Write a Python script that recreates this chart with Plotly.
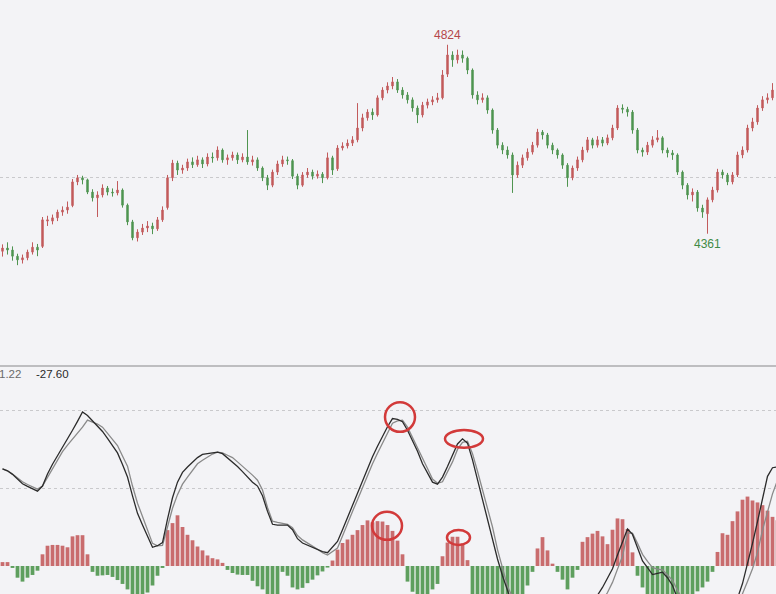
import plotly.graph_objects as go

# ---------------- price bars ----------------
opens = [4318,4326,4321,4306,4297,4302,4316,4328,4330,4392,4392,4400,4414,4419,4430,4488,4498,4493,4463,4449,
         4456,4473,4463,4461,4468,4431,4390,4351,4365,4375,4380,4373,4395,4425,4498,4534,4517,4522,4537,4530,
         4542,4532,4549,4547,4566,4542,4547,4554,4542,4549,4537,4542,4522,4498,4480,4512,4532,4542,4540,4502,
         4480,4505,4512,4502,4507,4498,4547,4520,4571,4576,4583,4591,4620,4645,4659,4652,4694,4713,4723,4733,
         4713,4701,4689,4669,4652,4676,4684,4689,4694,4752,4799,4787,4799,4791,4762,4701,4689,4694,4664,4615,
         4578,4566,4554,4505,4529,4547,4561,4578,4610,4603,4578,4566,4554,4529,4498,4522,4542,4566,4591,4578,
         4591,4583,4596,4620,4669,4666,4659,4615,4566,4561,4578,4591,4596,4566,4559,4554,4512,4480,4456,4463,
         4424,4410,4444,4468,4512,4505,4488,4505,4554,4566,4620,4635,4669,4689,4694,4713]
highs = [4335,4340,4330,4312,4310,4322,4340,4336,4402,4405,4408,4420,4428,4440,4495,4505,4503,4496,4470,4465,
         4482,4478,4472,4490,4472,4435,4395,4372,4385,4392,4388,4402,4428,4505,4542,4540,4530,4545,4548,4552,
         4548,4558,4560,4575,4570,4555,4562,4560,4558,4615,4552,4548,4526,4505,4518,4540,4552,4550,4544,4508,
         4512,4522,4518,4516,4512,4560,4552,4578,4585,4592,4600,4681,4655,4666,4668,4700,4720,4732,4745,4740,
         4720,4708,4695,4675,4684,4692,4698,4706,4762,4824,4808,4812,4810,4795,4766,4710,4705,4700,4668,4620,
         4585,4575,4560,4538,4555,4570,4586,4618,4615,4608,4584,4570,4558,4534,4528,4550,4574,4598,4596,4600,
         4598,4604,4628,4676,4678,4672,4664,4620,4572,4586,4600,4615,4600,4572,4566,4558,4516,4485,4472,4468,
         4432,4450,4476,4520,4518,4510,4512,4562,4575,4628,4645,4676,4698,4705,4730,4718]
lows = [4305,4310,4295,4284,4288,4296,4310,4306,4326,4380,4384,4392,4405,4410,4426,4480,4482,4458,4440,4402,
        4450,4455,4452,4455,4425,4382,4345,4342,4358,4365,4360,4368,4390,4420,4490,4505,4508,4515,4522,4525,
        4522,4526,4535,4540,4535,4530,4540,4532,4536,4530,4528,4515,4490,4468,4475,4505,4525,4530,4495,4470,
        4476,4498,4494,4496,4485,4494,4505,4515,4565,4570,4576,4585,4612,4638,4640,4648,4688,4705,4715,4706,
        4692,4680,4660,4632,4646,4668,4676,4682,4690,4745,4770,4778,4780,4752,4692,4678,4682,4655,4606,4570,
        4556,4545,4461,4498,4522,4540,4555,4572,4592,4570,4556,4545,4520,4476,4492,4515,4536,4560,4570,4572,
        4575,4578,4590,4615,4656,4648,4606,4558,4550,4554,4572,4585,4558,4548,4542,4505,4470,4445,4440,4415,
        4400,4361,4438,4462,4496,4480,4482,4500,4546,4560,4612,4628,4662,4680,4688,4655]
closes = [4326,4321,4306,4297,4302,4316,4328,4321,4395,4395,4400,4414,4419,4426,4488,4498,4493,4463,4449,4456,
          4473,4463,4461,4468,4431,4390,4351,4365,4375,4380,4373,4395,4419,4498,4534,4517,4522,4537,4530,4542,
          4532,4549,4547,4566,4542,4547,4554,4542,4549,4537,4542,4522,4498,4480,4512,4532,4542,4540,4502,4480,
          4505,4512,4502,4507,4498,4547,4517,4571,4576,4583,4591,4620,4645,4659,4652,4694,4713,4723,4733,4713,
          4701,4689,4669,4652,4676,4684,4689,4694,4750,4799,4787,4799,4791,4762,4701,4689,4694,4664,4615,4578,
          4566,4554,4505,4529,4547,4561,4578,4610,4603,4578,4566,4554,4529,4498,4522,4542,4566,4591,4578,4591,
          4583,4596,4620,4669,4666,4659,4615,4566,4561,4578,4591,4596,4566,4559,4554,4512,4480,4456,4463,4424,
          4414,4444,4468,4512,4505,4488,4505,4554,4566,4620,4635,4669,4689,4694,4713,4664]

# ---------------- MACD panel ----------------
macd = [24.9,24.4,23.5,22.2,21.1,20.4,19.8,19.2,20.5,23.6,26.1,28.2,30.3,32.5,34.8,37.1,39.5,38.6,37.3,36.0,
        34.5,32.7,30.9,29.0,26.0,22.8,18.0,13.5,10.5,7.6,4.8,5.2,6.0,12.0,17.5,21.5,24.0,25.4,26.5,27.8,
        28.6,28.8,29.0,29.2,28.8,27.7,26.8,25.5,24.2,22.8,21.5,20.5,18.0,14.0,10.7,10.5,10.5,10.5,9.3,7.0,
        5.9,5.3,4.7,4.2,3.7,3.4,4.8,6.3,9.3,12.5,15.5,18.5,22.0,25.3,28.0,30.7,33.4,35.7,37.8,37.6,
        37.0,34.8,32.1,29.4,26.2,23.8,21.5,21.0,22.8,25.5,28.3,31.3,32.6,31.5,27.2,22.0,17.0,11.5,6.5,1.8,
        -2.5,-6.5,-10.0,-12.3,-14.8,-16.5,-18.2,-19.5,-20.3,-21.1,-21.8,-21.9,-21.2,-20.3,-19.0,-17.0,-15.0,-13.0,-10.0,-7.5,
        -5.5,-3.2,-0.7,2.8,5.9,9.5,8.1,4.8,1.3,-0.4,-2.2,-1.9,-1.6,-3.0,-5.0,-8.3,-11.0,-12.8,-14.2,-15.4,
        -16.3,-16.8,-16.9,-16.3,-14.8,-13.0,-10.8,-8.3,-4.5,0.5,5.8,11.4,17.6,23.0,25.2,25.4]
signal = [24.9,24.4,23.6,22.5,21.6,20.9,20.3,19.7,20.5,22.7,25.0,27.3,29.3,31.0,32.5,34.0,35.6,37.4,37.0,36.4,
          35.6,34.1,32.5,30.9,28.2,25.6,20.5,16.1,12.7,9.4,5.8,5.2,5.3,10.0,14.8,18.3,21.0,22.8,24.5,26.2,
          27.1,28.0,28.7,29.2,29.0,28.4,27.8,26.7,25.6,24.4,23.3,22.0,19.5,15.0,11.5,11.2,11.0,10.7,9.8,7.8,
          6.7,5.8,5.1,4.3,3.4,2.8,3.7,4.6,7.7,11.0,14.0,17.0,20.2,23.4,26.2,28.9,31.6,34.0,36.6,37.2,
          37.4,35.6,33.0,30.6,27.9,25.0,22.3,21.2,21.6,24.2,26.7,29.9,31.7,32.0,28.8,24.3,19.5,14.5,10.0,4.2,
          -0.5,-5.2,-8.0,-10.2,-12.8,-15.0,-16.7,-18.3,-19.5,-20.6,-21.6,-22.0,-21.7,-21.2,-20.5,-18.7,-16.9,-15.0,-12.5,-10.8,
          -9.0,-6.8,-4.2,-0.8,2.5,8.5,8.4,5.8,3.0,1.2,-0.4,-0.8,-1.0,-2.3,-3.7,-6.2,-8.7,-11.0,-13.0,-14.5,
          -15.7,-16.5,-17.0,-16.8,-15.5,-14.0,-12.3,-10.2,-7.2,-4.0,-0.7,3.5,9.2,14.0,18.5,22.0]
hist = [1.0,1.0,-0.5,-3.0,-4.0,-3.0,-2.3,-1.2,3.0,5.2,5.4,5.4,5.2,4.8,7.6,7.9,7.9,3.0,-1.5,-2.5,
        -2.4,-2.3,-2.8,-3.6,-4.6,-6.0,-7.2,-8.0,-8.0,-6.8,-5.0,-2.5,-0.5,9.2,11.0,13.0,10.0,8.0,6.6,5.0,
        4.0,2.7,2.0,1.7,0.8,-1.0,-1.8,-2.2,-2.3,-2.3,-3.8,-5.2,-6.0,-7.5,-8.0,-8.0,-1.5,-2.5,-5.5,-6.0,
        -5.6,-4.4,-3.5,-2.4,-1.4,-0.4,1.4,4.2,5.9,6.8,8.0,9.2,10.5,11.7,11.2,11.5,11.4,10.5,9.0,6.5,
        3.0,-4.0,-6.6,-8.0,-7.8,-7.2,-6.0,-4.6,2.5,6.0,7.5,7.5,5.8,1.5,-8.0,-11.0,-14.0,-16.0,-18.0,-19.0,
        -18.0,-16.0,-14.0,-12.0,-9.0,-5.0,-1.5,4.5,7.4,4.0,0.6,-1.5,-3.5,-6.0,-3.0,-1.0,6.2,7.4,8.3,9.0,
        7.6,5.6,9.3,12.2,12.0,9.5,3.5,-2.5,-5.5,-8.5,-9.0,-8.3,-7.8,-7.2,-7.5,-8.5,-9.0,-8.5,-7.5,-6.5,
        -5.5,-4.0,-1.5,3.6,8.4,8.0,11.5,14.0,17.0,17.8,16.8,16.3,15.6,14.2,12.6,11.7]

header_left = "1.22"
header_right = "-27.60"
price_grid = [4500]
macd_grid = [20, 40]

# highlight ellipses (bar index range, value range) on the MACD panel
highlights = [(76.5, 82.5, 34.4, 42.0), (88.5, 96.1, 30.3, 34.9),
              (73.9, 79.9, 6.7, 13.9), (88.9, 93.5, 5.4, 9.2)]

n = len(closes)
idx = list(range(n))

RED = "#c25a5c"
GREEN = "#4f9450"
BG = "#f3f3f6"
W, H = 776, 594

fig = go.Figure()
fig.add_trace(go.Candlestick(
    x=idx, open=opens, high=highs, low=lows, close=closes,
    increasing=dict(line=dict(color=RED, width=1), fillcolor=RED),
    decreasing=dict(line=dict(color=GREEN, width=1), fillcolor=GREEN),
    whiskerwidth=0, xaxis="x", yaxis="y", showlegend=False, hoverinfo="skip"))

fig.add_trace(go.Bar(
    x=idx, y=hist, width=0.75,
    marker=dict(color=["#c96c6e" if v >= 0 else "#5e9f5e" for v in hist], line=dict(width=0)),
    xaxis="x2", yaxis="y2", showlegend=False, hoverinfo="skip"))
fig.add_trace(go.Scatter(x=idx, y=signal, mode="lines", line=dict(color="#8a8a8a", width=1.3),
                         xaxis="x2", yaxis="y2", showlegend=False, hoverinfo="skip"))
fig.add_trace(go.Scatter(x=idx, y=macd, mode="lines", line=dict(color="#2b2b2b", width=1.3),
                         xaxis="x2", yaxis="y2", showlegend=False, hoverinfo="skip"))

split_px = 366
top_bottom = 1 - 365 / H
low_top = 1 - split_px / H
px_per_unit_price = 2.45
px_per_unit_macd = 3.9
grid_px = 177
zero_px = 566

y_top = price_grid[0] + grid_px * px_per_unit_price
y_bot = price_grid[0] - (365 - grid_px) * px_per_unit_price
m_top = (zero_px - split_px) / px_per_unit_macd
m_bot = -(H - zero_px) / px_per_unit_macd
x_range = [-0.5, -0.5 + W / 5.0]

axis_common = dict(showticklabels=False, ticks="", zeroline=False, showline=False)
fig.update_layout(
    width=W, height=H, margin=dict(l=0, r=0, t=0, b=0),
    paper_bgcolor=BG, plot_bgcolor=BG, boxgap=0.6,
    font=dict(family="Liberation Sans, Arial, sans-serif"),
    xaxis=dict(domain=[0, 1], range=x_range, showgrid=False, rangeslider=dict(visible=False), **axis_common),
    yaxis=dict(domain=[top_bottom, 1], range=[y_bot, y_top], tickvals=price_grid, showgrid=True,
               gridcolor="#c9c9cc", griddash="dot", gridwidth=1, **axis_common),
    xaxis2=dict(domain=[0, 1], range=x_range, anchor="y2", showgrid=False, **axis_common),
    yaxis2=dict(domain=[0, low_top], range=[m_bot, m_top], anchor="x2", tickvals=macd_grid, showgrid=True,
                gridcolor="#c9c9cc", griddash="dot", gridwidth=1, **axis_common),
)

# separator line between panels
fig.add_shape(type="line", xref="paper", yref="paper", x0=0, x1=1, y0=low_top, y1=low_top,
              line=dict(color="#bdbdc0", width=2))

for (a, b, c, d) in highlights:
    fig.add_shape(type="circle", xref="x2", yref="y2", x0=a, x1=b, y0=c, y1=d,
                  line=dict(color="#d23a3a", width=2.5))

hi_i = max(idx, key=lambda i: highs[i])
lo_i = min(range(hi_i, n), key=lambda i: lows[i])
fig.add_annotation(x=hi_i, y=highs[hi_i], xref="x", yref="y", text=str(highs[hi_i]), showarrow=False,
                   yanchor="bottom", yshift=1, font=dict(size=12, color="#b5474a"))
fig.add_annotation(x=lo_i, y=lows[lo_i], xref="x", yref="y", text=str(lows[lo_i]), showarrow=False,
                   yanchor="top", yshift=-1, font=dict(size=12, color="#3f8a45"))

fig.add_annotation(x=-3 / W, y=1 - 374 / H, xref="paper", yref="paper", text=header_left, showarrow=False,
                   xanchor="left", yanchor="middle", font=dict(size=11.5, color="#6a6a6a"))
fig.add_annotation(x=34 / W, y=1 - 374 / H, xref="paper", yref="paper", text=header_right, showarrow=False,
                   xanchor="left", yanchor="middle", font=dict(size=11.5, color="#2a2a2a"))

fig.write_html("out.html", config={"displayModeBar": False, "staticPlot": True},
               post_script="document.body.style.margin='0';document.body.style.overflow='hidden';")
